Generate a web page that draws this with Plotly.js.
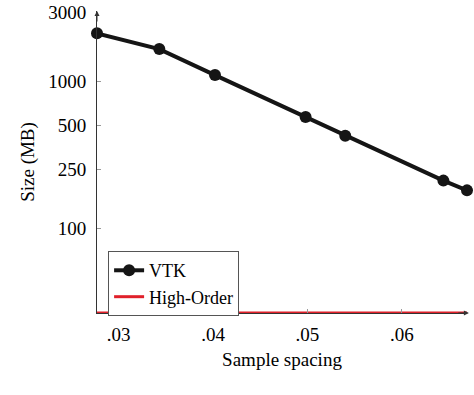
<!DOCTYPE html>
<html>
<head>
<meta charset="utf-8">
<script src="https://cdn.plot.ly/plotly-3.0.1.min.js"></script>
<style>html,body{margin:0;padding:0;background:#fff;}#chart{width:474px;height:395px;}</style>
</head>
<body>
<div id="chart"></div>
<script>
const spacing = [0.0277, 0.0343, 0.0402, 0.0498, 0.0540, 0.0644, 0.0669];
const vtkSize = [2140, 1670, 1110, 573, 428, 211, 181];
const highOrderSize = [26.3, 26.3, 26.3, 26.3, 26.3, 26.3, 26.3];
const xTickVals = [0.03, 0.04, 0.05, 0.06];
const xTickText = ['.03', '.04', '.05', '.06'];
const yTickVals = [100, 250, 500, 1000, 3000];
const yTickText = ['100', '250', '500', '1000', '3000'];

const font = {family: 'Liberation Serif, Times New Roman, serif', size: 19, color: '#000'};

const traces = [
  {
    x: spacing, y: highOrderSize, name: 'High-Order', mode: 'lines',
    line: {color: '#e0202a', width: 3}, cliponaxis: false
  },
  {
    x: spacing, y: vtkSize, name: 'VTK', mode: 'lines+markers',
    line: {color: '#151515', width: 4},
    marker: {color: '#151515', size: 12, symbol: 'circle'},
    cliponaxis: false
  }
];

const layout = {
  width: 474, height: 395,
  margin: {l: 97, r: 7, t: 11, b: 82},
  paper_bgcolor: '#fff', plot_bgcolor: '#fff',
  font: font,
  showlegend: true,
  legend: {
    x: 0.03, y: 0.205, xanchor: 'left', yanchor: 'top',
    bgcolor: '#fff', bordercolor: '#555', borderwidth: 1,
    traceorder: 'reversed', font: {family: font.family, size: 18, color: '#000'}, itemwidth: 30
  },
  xaxis: {
    range: [0.0277, 0.0669],
    tickvals: xTickVals, ticktext: xTickText,
    ticks: 'inside', ticklen: 4, tickcolor: '#999',
    showline: true, linecolor: '#333', linewidth: 1,
    showgrid: false, zeroline: false,
    tickfont: font, ticklabelstandoff: 4,
    title: {text: 'Sample spacing', font: font, standoff: 8}
  },
  yaxis: {
    type: 'log',
    range: [Math.log10(26.3), 3.483],
    tickvals: yTickVals, ticktext: yTickText,
    ticks: 'inside', ticklen: 4, tickcolor: '#999',
    showline: true, linecolor: '#333', linewidth: 1,
    showgrid: false, zeroline: false,
    tickfont: font, ticklabelstandoff: 6, ticklabeloverflow: 'allow',
    title: {text: 'Size (MB)', font: font, standoff: 8}
  },
  annotations: [
    {xref: 'paper', yref: 'paper', x: 0, y: 1.0, ax: 0, ay: 12, showarrow: true,
     arrowhead: 2, arrowsize: 1, arrowwidth: 1, arrowcolor: '#333', text: ''},
    {xref: 'paper', yref: 'paper', x: 1.005, y: 0, ax: -12, ay: 0, showarrow: true,
     arrowhead: 2, arrowsize: 1, arrowwidth: 1, arrowcolor: '#333', text: ''}
  ]
};

Plotly.newPlot('chart', traces, layout, {displayModeBar: false, staticPlot: true});
</script>
</body>
</html>
